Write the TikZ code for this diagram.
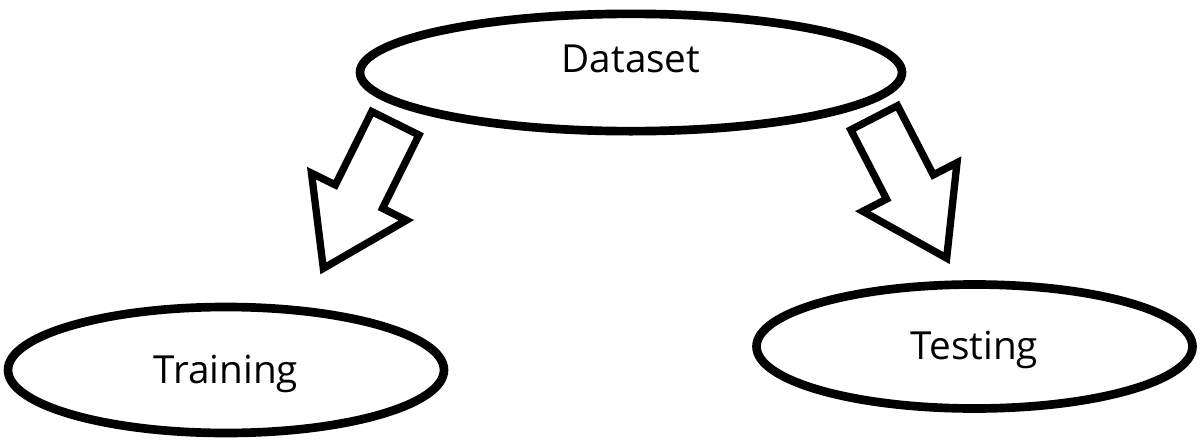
\documentclass[tikz,border=0pt]{standalone}
\usepackage{fontspec}
\setmainfont{Open Sans}
\usetikzlibrary{shapes.geometric,shapes.arrows}

\tikzset{
  setnode/.style={ellipse, draw, line width=6.5pt, inner sep=0pt, text height=20pt, text depth=0pt,
    font=\fontsize{29}{34}\selectfont},
  splitarrow/.style={single arrow, draw, line width=5.5pt, inner sep=0pt, inner ysep=17pt,
    minimum width=74pt, single arrow head extend=20pt, single arrow tip angle=67, anchor=tail}
}

\begin{document}
\begin{tikzpicture}[x=0.75pt,y=0.75pt,yscale=-1,xscale=1]
    \useasboundingbox (0,0) rectangle (1200,443);

    % Ellipses
    \node [setnode, minimum width=406.5pt, minimum height=88pt, text depth=20pt] (dataset) at (631,72.5) {Dataset};
    \node [setnode, minimum width=327pt, minimum height=94.5pt] (training) at (226,370) {Training};
    \node [setnode, minimum width=327pt, minimum height=93pt] (testing) at (974.5,346.5) {Testing};

    % Block arrows
    \node [splitarrow, minimum height=121.5pt, rotate=243.6] (totrain) at (397,120) {};
    \node [splitarrow, minimum height=118.5pt, rotate=-62.7] (totest) at (872.5,114.5) {};

\end{tikzpicture}
\end{document}
